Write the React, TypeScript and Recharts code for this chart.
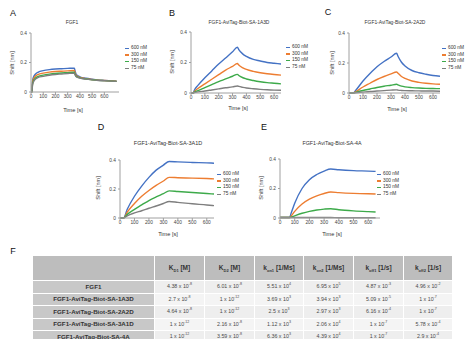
import React from "react";
import { LineChart, Line, XAxis, YAxis } from "recharts";

const FONT = "'Liberation Sans', Arial, sans-serif";
const colors = ["#4472C4", "#ED7D31", "#3DAA4A", "#7F7F7F"];
const concLabels = ["600 nM", "300 nM", "150 nM", "75 nM"];
const xTicks = [0, 100, 200, 300, 400, 500, 600];
const yTicks = [0, 0.2, 0.4];

// sensorgram traces (time in s, shift in nm)
const timesA = [0, 8, 12, 20, 35, 60, 100, 150, 200, 250, 300, 355, 360, 370, 400, 450, 500, 550, 600, 700];
const a600 = [0, 0, 0.07, 0.1, 0.12, 0.135, 0.145, 0.152, 0.156, 0.158, 0.16, 0.162, 0.145, 0.12, 0.103, 0.093, 0.087, 0.082, 0.079, 0.074];
const a300 = [0, 0, 0.06, 0.088, 0.107, 0.12, 0.128, 0.135, 0.139, 0.141, 0.143, 0.146, 0.132, 0.112, 0.099, 0.09, 0.085, 0.08, 0.078, 0.073];
const a150 = [0, 0, 0.05, 0.075, 0.093, 0.106, 0.114, 0.121, 0.126, 0.129, 0.131, 0.134, 0.122, 0.106, 0.096, 0.088, 0.083, 0.079, 0.077, 0.072];
const a75 = [0, 0, 0.045, 0.068, 0.086, 0.099, 0.106, 0.114, 0.119, 0.122, 0.125, 0.128, 0.117, 0.103, 0.094, 0.087, 0.082, 0.078, 0.076, 0.072];

const timesB = [0, 15, 25, 50, 100, 150, 200, 250, 300, 335, 345, 375, 400, 450, 500, 550, 600, 650];
const b600 = [0, 0, 0.02, 0.05, 0.1, 0.145, 0.19, 0.23, 0.27, 0.3, 0.285, 0.255, 0.24, 0.22, 0.21, 0.2, 0.195, 0.19];
const b300 = [0, 0, 0.01, 0.03, 0.06, 0.09, 0.12, 0.15, 0.175, 0.193, 0.183, 0.165, 0.155, 0.142, 0.133, 0.126, 0.121, 0.117];
const b150 = [0, 0, 0.006, 0.015, 0.035, 0.055, 0.075, 0.092, 0.11, 0.122, 0.115, 0.1, 0.092, 0.082, 0.074, 0.068, 0.064, 0.06];
const b75 = [0, 0, 0.003, 0.007, 0.013, 0.02, 0.027, 0.034, 0.04, 0.046, 0.043, 0.037, 0.033, 0.028, 0.024, 0.021, 0.019, 0.018];

const timesC = [0, 30, 50, 100, 150, 200, 250, 300, 340, 350, 375, 400, 450, 500, 550, 600, 650];
const c600 = [0, 0, 0.02, 0.08, 0.13, 0.175, 0.21, 0.24, 0.265, 0.245, 0.205, 0.18, 0.15, 0.135, 0.125, 0.117, 0.112];
const c300 = [0, 0, 0.01, 0.04, 0.065, 0.09, 0.11, 0.127, 0.14, 0.132, 0.11, 0.097, 0.08, 0.071, 0.065, 0.061, 0.058];
const c150 = [0, 0, 0.005, 0.017, 0.027, 0.037, 0.045, 0.052, 0.058, 0.054, 0.046, 0.041, 0.036, 0.033, 0.031, 0.03, 0.029];
const c75 = [0, 0, 0.002, 0.006, 0.01, 0.013, 0.016, 0.019, 0.021, 0.019, 0.017, 0.016, 0.015, 0.014, 0.013, 0.013, 0.012];

const timesD = [0, 25, 50, 100, 150, 200, 250, 300, 340, 400, 500, 600, 650];
const d600 = [0, 0, 0.06, 0.15, 0.22, 0.28, 0.33, 0.365, 0.39, 0.387, 0.383, 0.38, 0.378];
const d300 = [0, 0, 0.04, 0.1, 0.15, 0.19, 0.225, 0.255, 0.28, 0.278, 0.275, 0.272, 0.27];
const d150 = [0, 0, 0.025, 0.06, 0.09, 0.12, 0.145, 0.168, 0.187, 0.183, 0.176, 0.169, 0.165];
const d75 = [0, 0, 0.015, 0.035, 0.05, 0.067, 0.083, 0.1, 0.114, 0.108, 0.098, 0.09, 0.085];

const timesE = [0, 65, 75, 100, 150, 200, 250, 300, 345, 400, 500, 600, 650];
const e600 = [0.003, 0.003, 0.03, 0.1, 0.2, 0.26, 0.295, 0.318, 0.332, 0.327, 0.321, 0.318, 0.316];
const e300 = [0.003, 0.003, 0.012, 0.045, 0.095, 0.128, 0.15, 0.166, 0.176, 0.172, 0.167, 0.164, 0.163];
const e150 = [0.003, 0.003, 0.006, 0.015, 0.032, 0.045, 0.054, 0.06, 0.063, 0.056, 0.048, 0.043, 0.041];
const e75 = [0.003, 0.003, 0.003, 0.003, 0.003, 0.003, 0.003, 0.003, 0.003, 0.002, 0.002, 0.002, 0.002];

// table F
const rowNames = ["FGF1", "FGF1-AviTag-Biot-SA-1A3D", "FGF1-AviTag-Biot-SA-2A2D", "FGF1-AviTag-Biot-SA-3A1D", "FGF1-AviTag-Biot-SA-4A"];
const kd1 = ["4.38 x 10^-8", "2.7 x 10^-8", "4.64 x 10^-8", "1 x 10^-12", "1 x 10^-12"];
const kd2 = ["6.01 x 10^-8", "1 x 10^-12", "1 x 10^-12", "2.16 x 10^-8", "3.59 x 10^-8"];
const kon1 = ["5.51 x 10^4", "3.69 x 10^3", "2.5 x 10^3", "1.12 x 10^3", "6.36 x 10^3"];
const kon2 = ["6.95 x 10^5", "3.94 x 10^3", "2.97 x 10^3", "2.06 x 10^4", "4.39 x 10^4"];
const koff1 = ["4.87 x 10^-3", "5.09 x 10^-5", "6.16 x 10^-4", "1 x 10^-7", "1 x 10^-7"];
const koff2 = ["4.96 x 10^-2", "1 x 10^-7", "1 x 10^-7", "5.78 x 10^-4", "2.9 x 10^-4"];

type PanelDef = {
  letter: string; letterX: number; letterY: number;
  title: string; titleX: number; titleY: number; titleSize: number;
  plotLeft: number; plotTop: number; plotW: number; plotH: number; tMax: number;
  times: number[]; series: number[][];
  shiftX: number; shiftY: number; timeX: number; timeY: number;
  legX: number; legY: number;
};

const panels: PanelDef[] = [
  { letter: "A", letterX: 13, letterY: 13, title: "FGF1", titleX: 72, titleY: 23, titleSize: 4.9,
    plotLeft: 31, plotTop: 33, plotW: 88, plotH: 59, tMax: 720,
    times: timesA, series: [a600, a300, a150, a75],
    shiftX: 13, shiftY: 63, timeX: 73, timeY: 111, legX: 125, legY: 49 },
  { letter: "B", letterX: 172, letterY: 13, title: "FGF1-AviTag-Biot-SA-1A3D", titleX: 239, titleY: 23, titleSize: 4.9,
    plotLeft: 191, plotTop: 32, plotW: 90, plotH: 61, tMax: 650,
    times: timesB, series: [b600, b300, b150, b75],
    shiftX: 173, shiftY: 62, timeX: 238, timeY: 109, legX: 286, legY: 48 },
  { letter: "C", letterX: 328, letterY: 12, title: "FGF1-AviTag-Biot-SA-2A2D", titleX: 395, titleY: 23, titleSize: 4.9,
    plotLeft: 349, plotTop: 33, plotW: 91, plotH: 60, tMax: 650,
    times: timesC, series: [c600, c300, c150, c75],
    shiftX: 333, shiftY: 63, timeX: 397, timeY: 110, legX: 442, legY: 49 },
  { letter: "D", letterX: 101, letterY: 127, title: "FGF1-AviTag-Biot-SA-3A1D", titleX: 168, titleY: 144, titleSize: 5.5,
    plotLeft: 120, plotTop: 160, plotW: 94, plotH: 58, tMax: 650,
    times: timesD, series: [d600, d300, d150, d75],
    shiftX: 99, shiftY: 188, timeX: 168, timeY: 235, legX: 217, legY: 175 },
  { letter: "E", letterX: 264, letterY: 127, title: "FGF1-AviTag-Biot-SA-4A", titleX: 332, titleY: 144, titleSize: 5.3,
    plotLeft: 280, plotTop: 159, plotW: 100, plotH: 59, tMax: 680,
    times: timesE, series: [e600, e300, e150, e75],
    shiftX: 262, shiftY: 188, timeX: 332, timeY: 235, legX: 377, legY: 175 },
];

const centered = (x: number, y: number, extra: React.CSSProperties = {}): React.CSSProperties => ({
  position: "absolute", left: x, top: y, transform: "translate(-50%, -50%)", whiteSpace: "nowrap", lineHeight: 1, ...extra,
});

const Panel: React.FC<{ p: PanelDef }> = ({ p }) => {
  const yW = 14, xH = 10, mt = 5, mr = 4;
  const keys = ["s600", "s300", "s150", "s75"];
  const data = p.times.map((t, i) => {
    const row: Record<string, number> = { t };
    keys.forEach((k, j) => { row[k] = p.series[j][i]; });
    return row;
  });
  const tick = { fontSize: 4.8, fill: "#444", fontFamily: FONT };
  return (
    <>
      <div style={centered(p.letterX, p.letterY, { fontSize: 9, color: "#111" })}>{p.letter}</div>
      <div style={centered(p.titleX, p.titleY, { fontSize: p.titleSize, color: "#333" })}>{p.title}</div>
      <div style={centered(p.shiftX, p.shiftY, { fontSize: 5.6, color: "#333", transform: "translate(-50%, -50%) rotate(-90deg)" })}>Shift [nm]</div>
      <div style={centered(p.timeX, p.timeY, { fontSize: 5.6, color: "#333" })}>Time [s]</div>
      <div style={{ position: "absolute", left: p.plotLeft - yW, top: p.plotTop - mt }}>
        <LineChart width={yW + p.plotW + mr} height={mt + p.plotH + xH} data={data}
          margin={{ top: mt, right: mr, left: 0, bottom: 0 }}>
          <XAxis dataKey="t" type="number" domain={[0, p.tMax]} ticks={xTicks} allowDataOverflow
            height={xH} tickSize={2} tickMargin={1} tick={tick} stroke="#a0a0a0" interval={0} />
          <YAxis type="number" domain={[0, 0.4]} ticks={yTicks} width={yW} tickSize={2} tickMargin={2}
            tick={tick} stroke="#a0a0a0" tickFormatter={(v: number) => String(v)} />
          {keys.map((k, j) => (
            <Line key={k} dataKey={k} type="monotone" stroke={colors[j]} strokeWidth={1.4}
              dot={false} isAnimationActive={false} />
          ))}
        </LineChart>
      </div>
      {concLabels.map((lab, j) => (
        <div key={lab} style={{ position: "absolute", left: p.legX, top: p.legY + j * 6.7 - 3, fontSize: 4.8, lineHeight: 1, color: "#333", display: "flex", alignItems: "center", whiteSpace: "nowrap" }}>
          <span style={{ display: "inline-block", width: 4, height: 1.3, background: colors[j], marginRight: 2 }} />
          {lab}
        </div>
      ))}
    </>
  );
};

const Sci: React.FC<{ s: string }> = ({ s }) => {
  const [m, e] = s.split("^");
  return <span>{m}<sup style={{ fontSize: 3.6, verticalAlign: "super", lineHeight: 0 }}>{e}</sup></span>;
};

const headers: [string, string, string][] = [
  ["K", "D1", "[M]"], ["K", "D2", "[M]"], ["k", "on1", "[1/Ms]"], ["k", "on2", "[1/Ms]"], ["k", "off1", "[1/s]"], ["k", "off2", "[1/s]"],
];

const Table: React.FC = () => {
  const cols = [kd1, kd2, kon1, kon2, koff1, koff2];
  const widths = [50, 50, 49, 50, 50, 49];
  const cell: React.CSSProperties = { border: "1px solid #fff", textAlign: "center", padding: 0, overflow: "hidden", whiteSpace: "nowrap", lineHeight: 1 };
  return (
    <table style={{ position: "absolute", left: 32, top: 255, width: 420, borderCollapse: "collapse", tableLayout: "fixed", fontFamily: FONT }}>
      <colgroup>
        <col style={{ width: 122 }} />
        {widths.map((w, i) => <col key={i} style={{ width: w }} />)}
      </colgroup>
      <tbody>
        <tr style={{ height: 25 }}>
          <td style={{ ...cell, background: "#bdbdbd" }} />
          {headers.map(([a, b, c], i) => (
            <td key={i} style={{ ...cell, background: "#bdbdbd", fontSize: 6.5, fontWeight: "bold", color: "#333" }}>
              {a}<sub style={{ fontSize: 4, verticalAlign: "sub", lineHeight: 0 }}>{b}</sub> {c}
            </td>
          ))}
        </tr>
        {rowNames.map((name, r) => (
          <tr key={name} style={{ height: 12.5 }}>
            <td style={{ ...cell, background: "#c8c8c8", fontSize: 6.2, fontWeight: "bold", color: "#333" }}>{name}</td>
            {cols.map((col, c) => (
              <td key={c} style={{ ...cell, background: r % 2 === 0 ? "#eeeeee" : "#f4f4f4", fontSize: 5.3, color: "#4a4a4a" }}>
                <Sci s={col[r]} />
              </td>
            ))}
          </tr>
        ))}
      </tbody>
    </table>
  );
};

export default function App() {
  return (
    <div style={{ position: "absolute", left: 0, top: 0, width: 474, height: 339, overflow: "hidden", background: "#fff", fontFamily: FONT }}>
      {panels.map((p) => <Panel key={p.letter} p={p} />)}
      <div style={centered(13, 251, { fontSize: 9, color: "#111" })}>F</div>
      <Table />
    </div>
  );
}
